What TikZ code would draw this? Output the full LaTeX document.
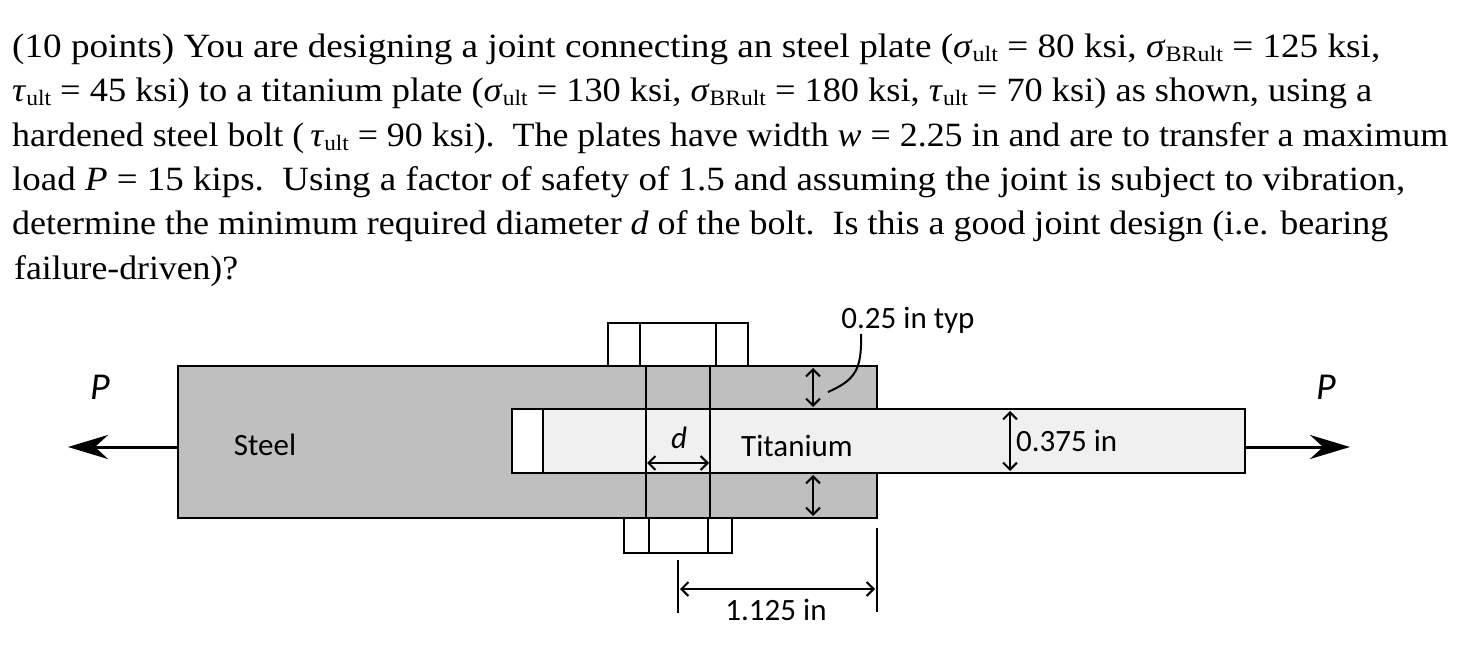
\documentclass[tikz,border=0pt]{standalone}
\usepackage{fontspec}
\usepackage{graphicx}
\setmainfont{Liberation Serif}
\newfontfamily\calfont{Carlito}
\usetikzlibrary{arrows.meta}
\newcommand{\gsub}[2]{\textit{#1}\raisebox{-0.3ex}{\fontsize{22}{22}\selectfont #2}}
\newcommand{\LineOf}[2]{\resizebox{#1pt}{\height}{\fontsize{34}{40}\selectfont #2}}
\begin{document}
\begin{tikzpicture}[x=1pt,y=-1pt,
  txt/.style={anchor=base west,inner sep=0pt},
  lbl/.style={font=\calfont\fontsize{31}{34}\selectfont,inner sep=0pt},
  plbl/.style={font=\calfont\itshape\fontsize{38}{40}\selectfont,inner sep=0pt},
  thk/.style={line width=2.6pt},
  dim/.style={line width=2pt,{Straight Barb[length=7pt,width=14pt]}-{Straight Barb[length=7pt,width=14pt]}},
  big/.style={line width=3pt,-{Stealth[length=40pt,width=24pt,inset=13pt]}}]
\useasboundingbox (0,0) rectangle (1460,672);
\node[txt] (l1) at (12,57) {\LineOf{1368}{(10 points) You are designing a joint connecting an steel plate (\gsub{σ}{ult} = 80 ksi, \gsub{σ}{BRult} = 125 ksi,}};
\node[txt] (l2) at (12,101) {\LineOf{1360}{\gsub{τ}{ult} = 45 ksi) to a titanium plate (\gsub{σ}{ult} = 130 ksi, \gsub{σ}{BRult} = 180 ksi, \gsub{τ}{ult} = 70 ksi) as shown, using a}};
\node[txt] (l3) at (12,146) {\LineOf{1436}{hardened steel bolt (\,\gsub{τ}{ult} = 90 ksi).\ \ The plates have width \textit{w} = 2.25 in and are to transfer a maximum}};
\node[txt] (l4) at (12,190) {\LineOf{1393}{load \textit{P} = 15 kips.\ \ Using a factor of safety of 1.5 and assuming the joint is subject to vibration,}};
\node[txt] (l5) at (12,234) {\LineOf{1376}{determine the minimum required diameter \textit{d} of the bolt.\ \ Is this a good joint design (i.e. bearing}};
\node[txt] (l6) at (14,279) {\LineOf{224}{failure-driven)?}};
% steel plate
\filldraw[thk,fill=black!25] (178,366) rectangle (877,518);
% titanium
\filldraw[thk,fill=black!6] (512,409) rectangle (1245,473);
\filldraw[thk,fill=white] (512,409) rectangle (543,473);
% bolt shank
\draw[thk] (646,366) -- (646,518) (710,366) -- (710,518);
% head
\draw[thk,fill=white] (608,323) rectangle (748,366);
\draw[thk] (640,323) -- (640,366) (716,323) -- (716,366);
% nut
\draw[thk,fill=white] (624,518) rectangle (732,553);
\draw[thk] (649,518) -- (649,553) (708,518) -- (708,553);
% dims
\coordinate (t1) at (813,368); \coordinate (t2) at (813,407);
\coordinate (t3) at (813,475); \coordinate (t4) at (813,516);
\draw[dim] (t1) -- (t2);
\draw[dim] (t3) -- (t4);
\node[lbl] (typ) at (908,320) {0.25 in typ};
\draw[line width=2pt] (828,392) .. controls (855,380) and (862,370) .. (861,334);
\coordinate (d1) at (647,463); \coordinate (d2) at (709,463);
\draw[dim] (d1) -- (d2);
\node[lbl] (dl) at (679,438) {\itshape d};
\node[lbl] (ti) at (797,446) {Titanium};
\node[lbl] (st) at (265,445) {Steel};
\coordinate (r1) at (1010,411); \coordinate (r2) at (1010,471);
\draw[dim] (r1) -- (r2);
\node[lbl,anchor=west] (rl) at (1016,441) {0.375 in};
\coordinate (e1) at (678,560); \coordinate (e2) at (678,613);
\coordinate (e3) at (877,528); \coordinate (e4) at (877,612);
\draw[line width=2.2pt] (e1) -- (e2) (e3) -- (e4);
\coordinate (m1) at (680,589); \coordinate (m2) at (875,589);
\draw[dim] (m1) -- (m2);
\node[lbl] (ml) at (776,610) {1.125 in};
\coordinate (pl) at (68,447); \coordinate (pr) at (1350,447);
\draw[big] (178,447) -- (pl);
\draw[big] (1245,447) -- (pr);
\node[plbl] (p1) at (100,387) {P};
\node[plbl] (p2) at (1326,387) {P};
\end{tikzpicture}
\end{document}
